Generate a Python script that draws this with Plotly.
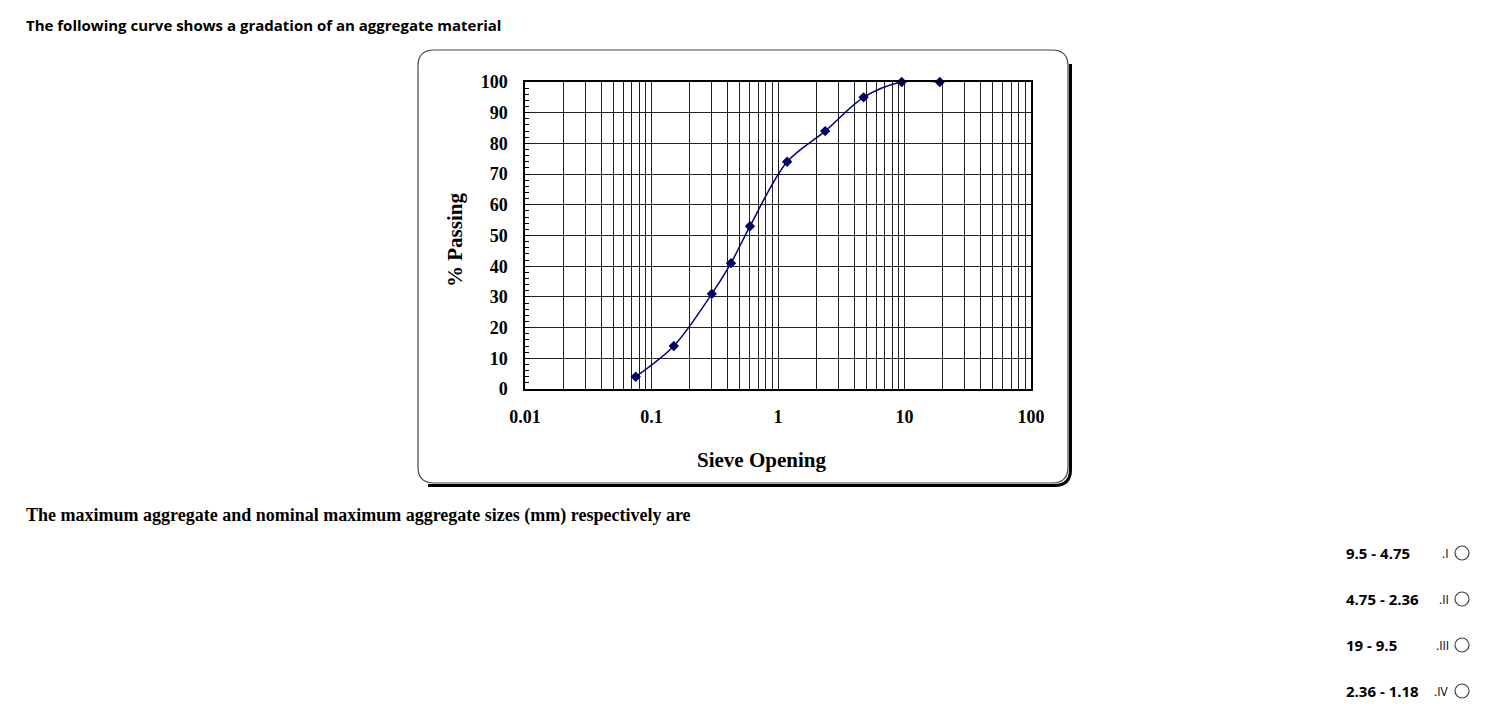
import plotly.graph_objects as go

W, H = 1510, 721
OFF = 8  # page body margin compensation

# ---- data ----
sieve_mm = [0.075, 0.15, 0.3, 0.425, 0.6, 1.18, 2.36, 4.75, 9.5, 19]
passing = [4, 14, 31, 41, 53, 74, 84, 95, 100, 100]
x_ticks = [0.01, 0.1, 1, 10, 100]
y_ticks = [0, 10, 20, 30, 40, 50, 60, 70, 80, 90, 100]
options = ["9.5 - 4.75", "4.75 - 2.36", "19 - 9.5", "2.36 - 1.18"]
option_marks = [".I", ".II", ".III", ".IV"]


def px(x):
    return (x - OFF) / W


def py(y):
    return 1 - (y - OFF) / H


# grid tick positions on the log axis (1..9 of each decade)
grid_vals = []
grid_text = []
for d in x_ticks[:-1]:
    for m in range(1, 10):
        v = round(d * m, 6)
        grid_vals.append(v)
        grid_text.append(str(d) if m == 1 else "")
grid_vals.append(100)
grid_text.append("100")

serif = "Liberation Serif"
sans = "Open Sans"

fig = go.Figure()
fig.add_trace(go.Scatter(
    x=sieve_mm, y=passing, mode="lines+markers",
    line=dict(color="#000080", width=1.5, shape="spline", smoothing=0.9),
    marker=dict(symbol="diamond", size=8, color="#000066"),
    showlegend=False, cliponaxis=False,
))

fig.update_layout(
    width=W, height=H,
    margin=dict(l=0, r=0, t=0, b=0, pad=0, autoexpand=False),
    paper_bgcolor="white", plot_bgcolor="white",
    showlegend=False,
    xaxis=dict(
        type="log", domain=[px(525), px(1031)], range=[-2, 2],
        tickvals=grid_vals, ticktext=grid_text, ticks="",
        showgrid=True, gridcolor="#222", gridwidth=1,
        showline=True, linecolor="black", linewidth=1.5, mirror=True,
        tickfont=dict(family=serif, size=18, color="black", weight="bold"),
        ticklabelstandoff=11, zeroline=False, automargin=False,
    ),
    yaxis=dict(
        domain=[py(389), py(82)], range=[0, 100],
        tickvals=y_ticks, ticks="inside", ticklen=5, tickcolor="black",
        showgrid=True, gridcolor="#222", gridwidth=1,
        showline=True, linecolor="black", linewidth=1.5, mirror=True,
        tickfont=dict(family=serif, size=18, color="black", weight="bold"),
        ticklabelstandoff=12, zeroline=False, automargin=False,
        minor=dict(dtick=2, ticks="inside", ticklen=4, tickcolor="black", showgrid=False),
    ),
)

# rounded frame with shadow
L, T, R, B, r = 418, 50, 1068, 483, 16
frame = (f"M {px(L + r)},{py(T)} L {px(R - r)},{py(T)} Q {px(R)},{py(T)} {px(R)},{py(T + r)} "
         f"L {px(R)},{py(B - r)} Q {px(R)},{py(B)} {px(R - r)},{py(B)} "
         f"L {px(L + r)},{py(B)} Q {px(L)},{py(B)} {px(L)},{py(B - r)} "
         f"L {px(L)},{py(T + r)} Q {px(L)},{py(T)} {px(L + r)},{py(T)} Z")
fig.add_shape(type="path", path=frame, xref="paper", yref="paper",
              line=dict(color="#444", width=1.2), layer="below")
o = 2.5
shadow = (f"M {px(R + o)},{py(T + 14)} L {px(R + o)},{py(B - r + o)} "
          f"Q {px(R + o)},{py(B + o)} {px(R - r + o)},{py(B + o)} L {px(L + 10)},{py(B + o)}")
fig.add_shape(type="path", path=shadow, xref="paper", yref="paper",
              line=dict(color="black", width=3), layer="below")

ann = []


def note(x, y, text, **kw):
    d = dict(x=px(x), y=py(y), text=text, showarrow=False, xref="paper", yref="paper",
             yanchor="middle")
    d.update(kw)
    ann.append(d)


note(761, 460, "Sieve Opening", xanchor="center",
     font=dict(family=serif, size=21, color="black", weight="bold"))
note(455, 240, "% Passing", xanchor="center", textangle=-90,
     font=dict(family=serif, size=21, color="black", weight="bold"))
note(24, 25, "The following curve shows a gradation of an aggregate material", xanchor="left",
     font=dict(family=sans, size=15, color="black", weight="bold"))
note(24, 515, "The maximum aggregate and nominal maximum aggregate sizes (mm) respectively are",
     xanchor="left", font=dict(family=serif, size=18, color="black", weight="bold"))
ys = [553, 599, 645, 691]
for txt, mk, yy in zip(options, option_marks, ys):
    note(1344, yy, txt, xanchor="left",
         font=dict(family=sans, size=15, color="black", weight="bold"))
    note(1451, yy, mk, xanchor="right", font=dict(family=sans, size=12, color="black"))
    fig.add_shape(type="circle", xref="paper", yref="paper",
                  x0=px(1455), x1=px(1469), y0=py(yy + 7), y1=py(yy - 7),
                  line=dict(color="#444", width=1.2))
fig.update_layout(annotations=ann)

fig.write_html("out.html")
